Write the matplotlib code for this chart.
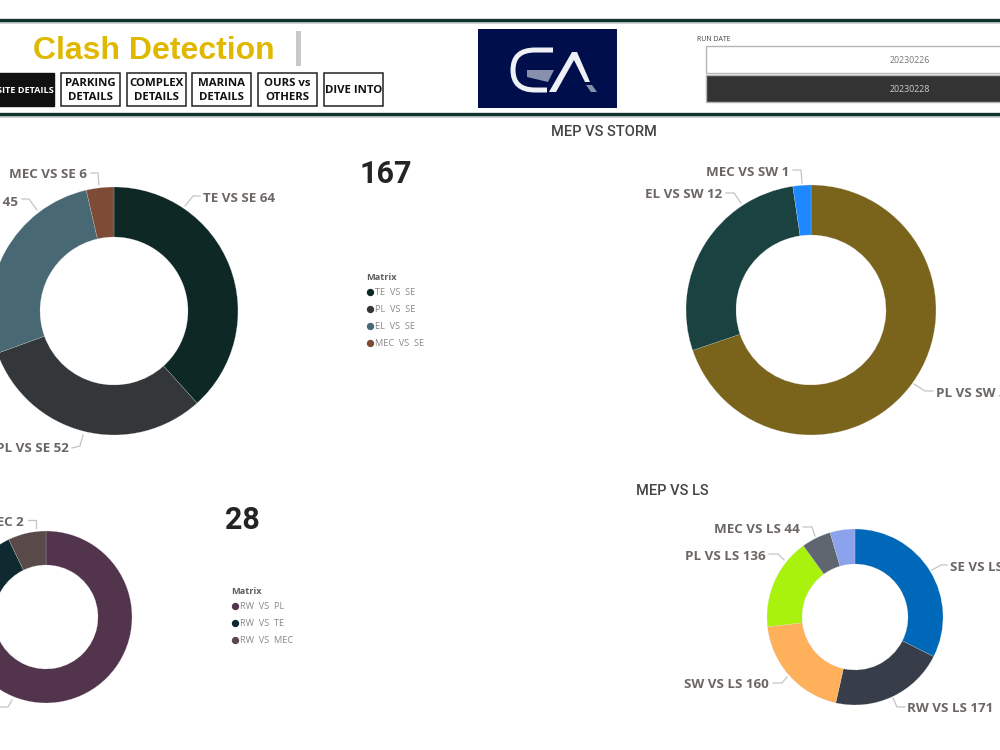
from matplotlib import pyplot as plt
from matplotlib.patches import Rectangle, Polygon, PathPatch
from matplotlib.path import Path

# data
se_names = ['TE VS SE', 'PL VS SE', 'EL VS SE', 'MEC VS SE']
se_values = [64, 52, 45, 6]
sw_names = ['PL VS SW', 'EL VS SW', 'MEC VS SW']
sw_values = [30, 12, 1]
rw_names = ['RW VS PL', 'RW VS TE', 'RW VS MEC']
rw_values = [21, 5, 2]
ls_names = ['SE VS LS', 'RW VS LS', 'SW VS LS', 'PL VS LS', 'MEC VS LS', '']
ls_values = [263, 171, 160, 136, 44, 37]
nav_buttons = ['PARKING\nDETAILS', 'COMPLEX\nDETAILS', 'MARINA\nDETAILS', 'OURS vs\nOTHERS', 'DIVE INTO']
run_dates = ['20230226', '20230228']

se_colors = ['#0d2825', '#33373a', '#486873', '#7d4b36']
sw_colors = ['#7a641b', '#1a4240', '#1e88ff']
rw_colors = ['#52344c', '#0e2a30', '#594a4a']
ls_colors = ['#0068b8', '#383d4a', '#ffb05a', '#a8f20d', '#5f6670', '#8ba3ec']

label_color = '#6b6663'
plt.rcParams['font.family'] = ['Open Sans', 'DejaVu Sans']

fig = plt.figure(figsize=(10, 7.5), dpi=100, facecolor='white')
# overlay in pixel coordinates for the dashboard furniture
bg = fig.add_axes([0, 0, 1, 1])
bg.set_xlim(0, 1000)
bg.set_ylim(750, 0)
bg.axis('off')


def donut(cx, cy, r, hole, values, colors):
    ax = fig.add_axes([(cx - r) / 1000, 1 - (cy + r) / 750, 2 * r / 1000, 2 * r / 750])
    ax.pie(values, colors=colors, startangle=90, counterclock=False, radius=1,
           wedgeprops=dict(width=1 - hole / r, edgecolor='#dddddd', linewidth=0.15))
    ax.set_xlim(-1, 1)
    ax.set_ylim(-1, 1)
    return ax


def data_label(text, x, y, ha, leader):
    bg.text(x, y + 0.5, text, ha=ha, va='center', fontsize=9.6, fontweight='bold', color=label_color)
    bg.plot([p[0] for p in leader], [p[1] for p in leader], color='#c4c4c4', lw=0.9)


def legend(x, y, names, colors):
    bg.text(x, y, 'Matrix', fontsize=6.6, fontweight='bold', color='#605e5c', va='center')
    for i, (n, c) in enumerate(zip(names, colors)):
        yy = y + 14 + 17 * i
        bg.scatter([x + 3.5], [yy], s=28, color=c, linewidths=0)
        bg.text(x + 8.5, yy + 0.5, n.replace(' VS ', '  VS  '), fontsize=6.6, color='#8a8886', va='center')


# header
for y in (20, 114):
    bg.plot([0, 1000], [y + 2, y + 2], color='#c9cfcc', lw=2)
    bg.plot([0, 1000], [y, y], color='#12332c', lw=2.4)
bg.text(33, 51, 'Clash Detection', family='Liberation Sans', fontweight='bold', fontsize=23,
        color='#e0b800', va='center')
bg.add_patch(Rectangle((296, 31), 5, 35, color='#c8c8c8', lw=0))

# nav buttons
bg.add_patch(Rectangle((-5, 73), 59, 33, facecolor='#111111', edgecolor='#111111'))
bg.text(25, 90.5, 'SITE DETAILS', ha='center', va='center', fontsize=6.6, fontweight='bold', color='white')
for i, name in enumerate(nav_buttons):
    x0 = 61 + 65.7 * i
    bg.add_patch(Rectangle((x0, 73), 59, 33, facecolor='white', edgecolor='#222222', lw=1.1))
    bg.text(x0 + 29.5, 90.5, name, ha='center', va='center', fontsize=8.2, fontweight='bold',
            color='#111111', linespacing=1.25)

# logo
bg.add_patch(Rectangle((478, 29), 139, 79, color='#000f4b', lw=0))
g_path = Path([(553, 50), (535, 50), (513, 50), (513, 70), (513, 90), (535, 90), (547, 90)],
              [Path.MOVETO, Path.LINETO, Path.CURVE3, Path.CURVE3, Path.CURVE3, Path.CURVE3, Path.LINETO])
bg.add_patch(PathPatch(g_path, facecolor='none', edgecolor='#eef0f5', lw=3.6, capstyle='butt'))
bg.add_patch(Polygon([(527, 70), (554, 70), (548, 82), (527, 77)], color='#8791ae', lw=0))
bg.add_patch(Polygon([(549, 92), (572, 52), (577, 52), (590, 82), (585, 82), (574, 60), (556, 92)],
                     color='#eef0f5', lw=0))
bg.add_patch(Polygon([(586, 85), (592, 85), (597, 92), (591, 92)], color='#8791ae', lw=0))

# run date slicer
bg.text(697, 39.5, 'RUN DATE', fontsize=5, color='#444444', va='center')
bg.add_patch(Rectangle((706, 46), 300, 27, facecolor='white', edgecolor='#b5b5b5', lw=1))
bg.add_patch(Rectangle((706, 75), 300, 27, facecolor='#333333', edgecolor='#b5b5b5', lw=1))
bg.text(910, 60.5, run_dates[0], ha='center', va='center', fontsize=6.4, color='#777777')
bg.text(910, 89.5, run_dates[1], ha='center', va='center', fontsize=6.4, color='#cccccc')

# titles and totals
bg.text(604, 132, 'MEP VS STORM', ha='center', va='center', fontsize=10.5, fontweight='medium',
        color='#444444', family='Roboto')
bg.text(672, 491, 'MEP VS LS', ha='center', va='center', fontsize=10.5, fontweight='medium',
        color='#444444', family='Roboto')
bg.text(386, 174, str(sum(se_values)), ha='center', va='center', fontsize=22, fontweight='bold',
        color='#252423', family='Roboto')
bg.text(242, 520, str(sum(rw_values)), ha='center', va='center', fontsize=22, fontweight='bold',
        color='#252423', family='Roboto')

# donuts
donut(114, 311, 124, 74, se_values, se_colors)
donut(811, 310, 125, 75, sw_values, sw_colors)
donut(46, 617, 86, 52, rw_values, rw_colors)
donut(855, 617, 88, 53, ls_values, ls_colors)

# data labels
data_label(f'{se_names[0]} {se_values[0]}', 203, 198, 'left', [(185, 206), (193, 196), (200, 196)])
data_label(f'{se_names[3]} {se_values[3]}', 87, 174, 'right', [(91, 173), (98, 173), (99, 185)])
data_label(f'{se_names[2]} {se_values[2]}', 18, 202, 'right', [(22, 199), (29, 199), (37, 210)])
data_label(f'{se_names[1]} {se_values[1]}', 69, 448, 'right', [(72, 448), (80, 446), (83, 435)])

data_label(f'{sw_names[2]} {sw_values[2]}', 789, 172, 'right', [(793, 170), (801, 170), (802, 183)])
data_label(f'{sw_names[1]} {sw_values[1]}', 722, 194, 'right', [(726, 193), (734, 193), (741, 203)])
data_label(f'{sw_names[0]} {sw_values[0]}', 936, 393, 'left', [(914, 384), (925, 391), (933, 391)])

data_label(f'{rw_names[2]} {rw_values[2]}', 24, 522, 'right', [(28, 520), (36, 520), (36, 528)])
bg.plot([12, 8, 0], [700, 707, 707], color='#c4c4c4', lw=0.9)

data_label(f'{ls_names[4]} {ls_values[4]}', 800, 529, 'right', [(803, 527), (812, 527), (815, 536)])
data_label(f'{ls_names[3]} {ls_values[3]}', 766, 556, 'right', [(769, 554), (778, 554), (784, 560)])
data_label(f'{ls_names[0]} {ls_values[0]}', 950, 567, 'left', [(932, 570), (941, 565), (947, 565)])
data_label(f'{ls_names[1]} {ls_values[1]}', 907, 708, 'left', [(893, 698), (897, 707), (905, 707)])
data_label(f'{ls_names[2]} {ls_values[2]}', 769, 684, 'right', [(773, 683), (782, 683), (787, 677)])

# legends
legend(366.5, 278, se_names, se_colors)
legend(231.5, 592, rw_names, rw_colors)

bg.set_xlim(0, 1000)
bg.set_ylim(750, 0)
fig.savefig('out.png', dpi=100)
